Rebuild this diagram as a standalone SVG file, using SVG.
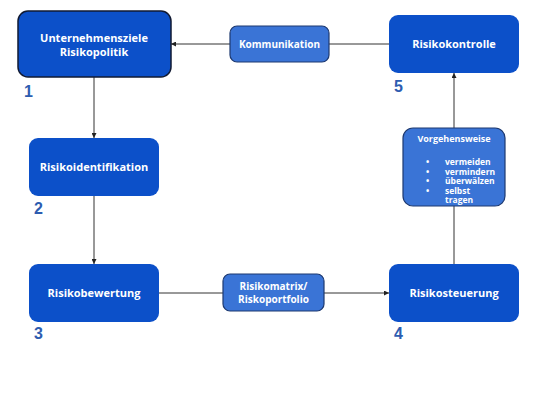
<svg xmlns="http://www.w3.org/2000/svg" width="548" height="411" viewBox="0 0 548 411">
<defs>
<style>
.main{fill:#0c50c9;}
.sub{fill:#3a74d6;stroke:#1d3970;stroke-width:1.2;}
.t{font-family:"Open Sans","Noto Sans","Liberation Sans",sans-serif;font-weight:bold;fill:#ffffff;text-anchor:middle;}
.n{font-family:"Liberation Sans",Arial,sans-serif;font-weight:bold;font-size:16px;fill:#2d5cb0;}
.c{stroke:#333333;stroke-width:1;fill:none;}
.b{font-family:"Open Sans","Noto Sans","Liberation Sans",sans-serif;font-weight:bold;fill:#ffffff;font-size:8.5px;}
</style>
<marker id="ah" viewBox="0 0 6 6" refX="6" refY="3" markerWidth="5" markerHeight="5" orient="auto" markerUnits="userSpaceOnUse">
<path d="M0,0 L6,3 L0,6 z" fill="#222222"/>
</marker>
</defs>
<rect width="548" height="411" fill="#ffffff"/>
<g id="connectors">
<line class="c" x1="94" y1="77" x2="94" y2="138" marker-end="url(#ah)"/>
<line class="c" x1="94" y1="196" x2="94" y2="264" marker-end="url(#ah)"/>
<line class="c" x1="159" y1="293" x2="223" y2="293"/>
<line class="c" x1="324" y1="293" x2="389" y2="293" marker-end="url(#ah)"/>
<line class="c" x1="454" y1="264" x2="454" y2="206"/>
<line class="c" x1="454" y1="128" x2="454" y2="73" marker-end="url(#ah)"/>
<line class="c" x1="389" y1="44" x2="329" y2="44"/>
<line class="c" x1="230" y1="44" x2="171" y2="44" marker-end="url(#ah)"/>
</g>
<g id="node1">
<rect class="main" x="18" y="11" width="153" height="66" rx="10" stroke="#111a33" stroke-width="1.5"/>
<text class="t" x="94" y="42" font-size="11">Unternehmensziele</text>
<text class="t" x="94" y="56" font-size="11">Risikopolitik</text>
<text class="n" x="24" y="97">1</text>
</g>
<g id="node2">
<rect class="main" x="29" y="138" width="130" height="58" rx="9"/>
<text class="t" x="94" y="171" font-size="11">Risikoidentifikation</text>
<text class="n" x="34" y="214">2</text>
</g>
<g id="node3">
<rect class="main" x="29" y="264" width="130" height="58" rx="9"/>
<text class="t" x="94" y="297" font-size="11">Risikobewertung</text>
<text class="n" x="34" y="339">3</text>
</g>
<g id="node4">
<rect class="main" x="389" y="264" width="130" height="58" rx="9"/>
<text class="t" x="454" y="297" font-size="11">Risikosteuerung</text>
<text class="n" x="394" y="339">4</text>
</g>
<g id="node5">
<rect class="main" x="389" y="15" width="130" height="58" rx="9"/>
<text class="t" x="454" y="48" font-size="11">Risikokontrolle</text>
<text class="n" x="394" y="92">5</text>
</g>
<g id="kommunikation">
<rect class="sub" x="230" y="26" width="99" height="36" rx="7"/>
<text class="t" x="279.5" y="48" font-size="10">Kommunikation</text>
</g>
<g id="risikomatrix">
<rect class="sub" x="223" y="274" width="101" height="37" rx="7"/>
<text class="t" x="273.5" y="290" font-size="10">Risikomatrix/</text>
<text class="t" x="273.5" y="303" font-size="10">Riskoportfolio</text>
</g>
<g id="vorgehensweise">
<rect class="sub" x="403" y="128" width="102" height="78" rx="10"/>
<text class="t" x="454" y="142" font-size="9">Vorgehensweise</text>
<g class="b">
<text x="426" y="165">•</text><text x="445" y="165">vermeiden</text>
<text x="426" y="174.5">•</text><text x="445" y="174.5">vermindern</text>
<text x="426" y="184">•</text><text x="445" y="184">überwälzen</text>
<text x="426" y="193.5">•</text><text x="445" y="193.5">selbst</text>
<text x="445" y="203">tragen</text>
</g>
</g>
</svg>
